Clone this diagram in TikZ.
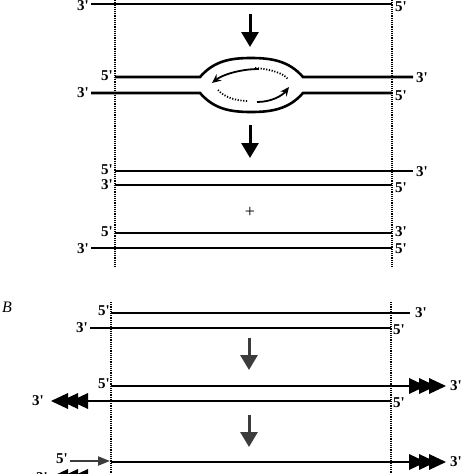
\documentclass[tikz,border=0pt]{standalone}
\usepackage{fontspec}
\setmainfont{Liberation Serif}
\newfontfamily\labfont{Liberation Serif}
\usetikzlibrary{arrows.meta}
\definecolor{darkgr}{HTML}{3C3C3C}
\tikzset{
  strand/.style={line width=2.6pt},
  strandb/.style={line width=2.2pt},
  guide/.style={line width=1.5pt, dash pattern=on 1.1pt off 1.1pt},
  lab/.style={inner sep=0pt, font=\labfont\fontsize{15}{15}\selectfont\bfseries},
  bigarrow/.style={line width=3pt, -{Triangle[length=15pt,width=17pt]}},
  grayarrow/.style={bigarrow, draw=darkgr, fill=darkgr},
  arcarrow/.style={line width=1.8pt, -{Stealth[length=9pt,width=8pt]}},
  arcdots/.style={line width=1.8pt, dash pattern=on 1.2pt off 1.6pt},
  tri3/.pic={\foreach \o in {0,10,20} \fill (\o,-8) -- (\o+17,0) -- (\o,8) -- cycle;}
}
\begin{document}
\begin{tikzpicture}[x=1pt,y=-1pt]
\useasboundingbox (0,0) rectangle (474,474);
\clip (0,0) rectangle (474,474);
% ---------- guides A
\coordinate (gAl1) at (115,0); \coordinate (gAl2) at (115,268);
\coordinate (gAr1) at (392,0); \coordinate (gAr2) at (392,268);
\draw[guide] (gAl1) -- (gAl2);
\draw[guide] (gAr1) -- (gAr2);
% ---------- line 1
\coordinate (l1a) at (91,4); \coordinate (l1b) at (392,4);
\draw[strand] (l1a) -- (l1b);
\node[lab, anchor=east] (t1l) at (89,6) {3'};
\node[lab, anchor=west] (t1r) at (395,7) {5'};
% arrow 1
\coordinate (a1s) at (250,14); \coordinate (a1e) at (250,47);
\draw[bigarrow] (a1s) -- (a1e);
% ---------- bubble
\coordinate (u1) at (115,77); \coordinate (u2) at (200,77); \coordinate (up) at (251,58);
\coordinate (u3) at (303,77); \coordinate (u4) at (413,77);
\draw[strand] (u1) -- (u2) .. controls (214,61) and (230,58) .. (up)
   .. controls (272,58) and (289,61) .. (u3) -- (u4);
\coordinate (d1) at (91,93); \coordinate (d2) at (200,93); \coordinate (dp) at (251,112);
\coordinate (d3) at (303,93); \coordinate (d4) at (392,93);
\draw[strand] (d1) -- (d2) .. controls (214,109) and (230,112) .. (dp)
   .. controls (272,112) and (289,109) .. (d3) -- (d4);
\node[lab, anchor=east] (t2l) at (113,76) {5'};
\node[lab, anchor=west] (t2r) at (416,78) {3'};
\node[lab, anchor=east] (t3l) at (89,93) {3'};
\node[lab, anchor=west] (t3r) at (395,96) {5'};
% inner arcs
\coordinate (ia1) at (259,69); \coordinate (ia2) at (212,83);
\draw[arcarrow] (ia1) .. controls (240,69) and (222,75) .. (ia2);
\coordinate (ib1) at (255,68); \coordinate (ib2) at (288,79);
\draw[arcdots] (ib1) .. controls (270,69) and (283,73) .. (ib2);
\coordinate (ic1) at (218,90); \coordinate (ic2) at (248,101);
\draw[arcdots] (ic1) .. controls (224,97) and (236,101) .. (ic2);
\coordinate (id1) at (257,102); \coordinate (id2) at (289,87);
\draw[arcarrow] (id1) .. controls (271,102) and (282,96) .. (id2);
% arrow 2
\coordinate (a2s) at (250,125); \coordinate (a2e) at (250,158);
\draw[bigarrow] (a2s) -- (a2e);
% ---------- daughters
\coordinate (p1a) at (115,171); \coordinate (p1b) at (413,171);
\draw[strand] (p1a) -- (p1b);
\node[lab, anchor=east] (t4l) at (113,170) {5'};
\node[lab, anchor=west] (t4r) at (416,172) {3'};
\coordinate (p2a) at (115,185); \coordinate (p2b) at (392,185);
\draw[strand] (p2a) -- (p2b);
\node[lab, anchor=east] (t5l) at (113,185) {3'};
\node[lab, anchor=west] (t5r) at (395,188) {5'};
\node[inner sep=0pt, font=\fontsize{18}{18}\selectfont] (plus) at (250,212) {+};
\coordinate (p3a) at (115,233); \coordinate (p3b) at (392,233);
\draw[strand] (p3a) -- (p3b);
\node[lab, anchor=east] (t6l) at (113,232) {5'};
\node[lab, anchor=west] (t6r) at (395,232) {3'};
\coordinate (p4a) at (91,248); \coordinate (p4b) at (392,248);
\draw[strand] (p4a) -- (p4b);
\node[lab, anchor=east] (t7l) at (89,249) {3'};
\node[lab, anchor=west] (t7r) at (395,249) {5'};
% ---------- section B
\node[inner sep=0pt, anchor=west, font=\fontsize{16}{16}\selectfont\itshape] (B) at (2,307) {B};
\coordinate (gBl1) at (111,302); \coordinate (gBl2) at (111,474);
\coordinate (gBr1) at (391,302); \coordinate (gBr2) at (391,474);
\draw[guide] (gBl1) -- (gBl2);
\draw[guide] (gBr1) -- (gBr2);
\coordinate (b1a) at (111,313); \coordinate (b1b) at (410,313);
\draw[strandb] (b1a) -- (b1b);
\node[lab, anchor=east] (t8l) at (110,311) {5'};
\node[lab, anchor=west] (t8r) at (415,313) {3'};
\coordinate (b2a) at (90,328); \coordinate (b2b) at (391,328);
\draw[strandb] (b2a) -- (b2b);
\node[lab, anchor=east] (t9l) at (88,328) {3'};
\node[lab, anchor=west] (t9r) at (393,330) {5'};
\coordinate (a3s) at (249,338); \coordinate (a3e) at (249,370);
\draw[grayarrow] (a3s) -- (a3e);
% extension
\coordinate (c1a) at (111,386); \coordinate (c1b) at (409,386);
\draw[strandb] (c1a) -- (c1b);
\pic at (c1b) {tri3};
\node[lab, anchor=west] (t10r) at (450,386) {3'};
\node[lab, anchor=east] (t10l) at (110,384) {5'};
\coordinate (c2a) at (88,401); \coordinate (c2b) at (391,401);
\draw[strandb] (c2a) -- (c2b);
\pic[xscale=-1] at (c2a) {tri3};
\node[lab, anchor=east] (t11l) at (44,401) {3'};
\node[lab, anchor=west] (t11r) at (393,403) {5'};
\coordinate (a4s) at (249,415); \coordinate (a4e) at (249,447);
\draw[grayarrow] (a4s) -- (a4e);
% last
\coordinate (e1a) at (111,462); \coordinate (e1b) at (409,462);
\draw[strandb] (e1a) -- (e1b);
\pic at (e1b) {tri3};
\node[lab, anchor=west] (t12r) at (450,462) {3'};
\coordinate (s1) at (70,461); \coordinate (s2) at (110,461);
\draw[darkgr, line width=2pt, -{Triangle[length=12pt,width=9pt]}] (s1) -- (s2);
\node[lab, anchor=east] (t12l) at (68,459) {5'};
\coordinate (e2a) at (88,477); \coordinate (e2b) at (391,477);
\draw[strandb] (e2a) -- (e2b);
\pic[xscale=-1] at (e2a) {tri3};
\node[lab, anchor=east] (t13l) at (48,478) {3'};
\end{tikzpicture}
\end{document}
